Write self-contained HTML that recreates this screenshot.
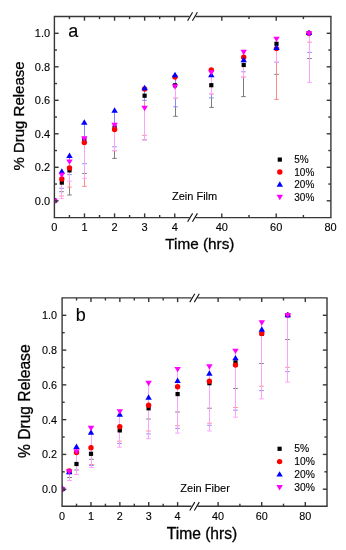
<!DOCTYPE html>
<html><head><meta charset="utf-8"><title>Drug release</title>
<style>
html,body{margin:0;padding:0;background:#fff;}
body{width:346px;height:550px;overflow:hidden;}
svg{display:block;}
svg text{font-family:"Liberation Sans", Arial, sans-serif;fill:#000;stroke:#000;stroke-width:0.12px;}
svg text.t{stroke-width:0.3px;}
</style></head>
<body>
<svg width="346" height="550" viewBox="0 0 346 550">
<rect width="346" height="550" fill="#fff"/>
<clipPath id="ca"><rect x="54.4" y="16.5" width="276.5" height="201.1"/></clipPath>
<g clip-path="url(#ca)">
<line x1="61.5" y1="182.6" x2="61.5" y2="191.7" stroke="#7c7c7c" stroke-width="1"/>
<line x1="59.2" y1="191.7" x2="63.8" y2="191.7" stroke="#7c7c7c" stroke-width="1"/>
<line x1="61.5" y1="179" x2="61.5" y2="196" stroke="#ff8a8a" stroke-width="1"/>
<line x1="59.2" y1="196" x2="63.8" y2="196" stroke="#ff8a8a" stroke-width="1"/>
<line x1="61.5" y1="171.5" x2="61.5" y2="188.3" stroke="#8a8aff" stroke-width="1"/>
<line x1="59.2" y1="188.3" x2="63.8" y2="188.3" stroke="#8a8aff" stroke-width="1"/>
<line x1="61.5" y1="174.8" x2="61.5" y2="198.6" stroke="#ffa2ff" stroke-width="1"/>
<line x1="59.2" y1="198.6" x2="63.8" y2="198.6" stroke="#ffa2ff" stroke-width="1"/>
<line x1="69.5" y1="170.4" x2="69.5" y2="195" stroke="#7c7c7c" stroke-width="1"/>
<line x1="67.2" y1="195" x2="71.8" y2="195" stroke="#7c7c7c" stroke-width="1"/>
<line x1="69.5" y1="167.9" x2="69.5" y2="187.1" stroke="#ff8a8a" stroke-width="1"/>
<line x1="67.2" y1="187.1" x2="71.8" y2="187.1" stroke="#ff8a8a" stroke-width="1"/>
<line x1="69.5" y1="155.8" x2="69.5" y2="174.6" stroke="#8a8aff" stroke-width="1"/>
<line x1="67.2" y1="174.6" x2="71.8" y2="174.6" stroke="#8a8aff" stroke-width="1"/>
<line x1="69.5" y1="161.6" x2="69.5" y2="181.2" stroke="#ffa2ff" stroke-width="1"/>
<line x1="67.2" y1="181.2" x2="71.8" y2="181.2" stroke="#ffa2ff" stroke-width="1"/>
<line x1="84.5" y1="139.5" x2="84.5" y2="173.5" stroke="#7c7c7c" stroke-width="1"/>
<line x1="82.2" y1="173.5" x2="86.8" y2="173.5" stroke="#7c7c7c" stroke-width="1"/>
<line x1="84.5" y1="142.6" x2="84.5" y2="186.3" stroke="#ff8a8a" stroke-width="1"/>
<line x1="82.2" y1="186.3" x2="86.8" y2="186.3" stroke="#ff8a8a" stroke-width="1"/>
<line x1="84.5" y1="122.5" x2="84.5" y2="163.7" stroke="#8a8aff" stroke-width="1"/>
<line x1="82.2" y1="163.7" x2="86.8" y2="163.7" stroke="#8a8aff" stroke-width="1"/>
<line x1="84.5" y1="138.5" x2="84.5" y2="178.3" stroke="#ffa2ff" stroke-width="1"/>
<line x1="82.2" y1="178.3" x2="86.8" y2="178.3" stroke="#ffa2ff" stroke-width="1"/>
<line x1="114.5" y1="127.5" x2="114.5" y2="158.4" stroke="#7c7c7c" stroke-width="1"/>
<line x1="112.2" y1="158.4" x2="116.8" y2="158.4" stroke="#7c7c7c" stroke-width="1"/>
<line x1="114.5" y1="129.5" x2="114.5" y2="150.8" stroke="#ff8a8a" stroke-width="1"/>
<line x1="112.2" y1="150.8" x2="116.8" y2="150.8" stroke="#ff8a8a" stroke-width="1"/>
<line x1="114.5" y1="110.5" x2="114.5" y2="146.8" stroke="#8a8aff" stroke-width="1"/>
<line x1="112.2" y1="146.8" x2="116.8" y2="146.8" stroke="#8a8aff" stroke-width="1"/>
<line x1="114.5" y1="125" x2="114.5" y2="150.5" stroke="#ffa2ff" stroke-width="1"/>
<line x1="112.2" y1="150.5" x2="116.8" y2="150.5" stroke="#ffa2ff" stroke-width="1"/>
<line x1="144.5" y1="95.7" x2="144.5" y2="139.8" stroke="#7c7c7c" stroke-width="1"/>
<line x1="142.2" y1="139.8" x2="146.8" y2="139.8" stroke="#7c7c7c" stroke-width="1"/>
<line x1="144.5" y1="89" x2="144.5" y2="135.3" stroke="#ff8a8a" stroke-width="1"/>
<line x1="142.2" y1="135.3" x2="146.8" y2="135.3" stroke="#ff8a8a" stroke-width="1"/>
<line x1="144.5" y1="88" x2="144.5" y2="100.4" stroke="#8a8aff" stroke-width="1"/>
<line x1="142.2" y1="100.4" x2="146.8" y2="100.4" stroke="#8a8aff" stroke-width="1"/>
<line x1="144.5" y1="108" x2="144.5" y2="139.8" stroke="#ffa2ff" stroke-width="1"/>
<line x1="142.2" y1="139.8" x2="146.8" y2="139.8" stroke="#ffa2ff" stroke-width="1"/>
<line x1="175.5" y1="85.3" x2="175.5" y2="116.3" stroke="#7c7c7c" stroke-width="1"/>
<line x1="173.2" y1="116.3" x2="177.8" y2="116.3" stroke="#7c7c7c" stroke-width="1"/>
<line x1="175.5" y1="77" x2="175.5" y2="98.2" stroke="#ff8a8a" stroke-width="1"/>
<line x1="173.2" y1="98.2" x2="177.8" y2="98.2" stroke="#ff8a8a" stroke-width="1"/>
<line x1="175.5" y1="75" x2="175.5" y2="106.8" stroke="#8a8aff" stroke-width="1"/>
<line x1="173.2" y1="106.8" x2="177.8" y2="106.8" stroke="#8a8aff" stroke-width="1"/>
<line x1="175.5" y1="86.3" x2="175.5" y2="98.2" stroke="#ffa2ff" stroke-width="1"/>
<line x1="173.2" y1="98.2" x2="177.8" y2="98.2" stroke="#ffa2ff" stroke-width="1"/>
<line x1="211.5" y1="85.2" x2="211.5" y2="107.4" stroke="#7c7c7c" stroke-width="1"/>
<line x1="209.2" y1="107.4" x2="213.8" y2="107.4" stroke="#7c7c7c" stroke-width="1"/>
<line x1="211.5" y1="69.9" x2="211.5" y2="94" stroke="#ff8a8a" stroke-width="1"/>
<line x1="209.2" y1="94" x2="213.8" y2="94" stroke="#ff8a8a" stroke-width="1"/>
<line x1="211.5" y1="75" x2="211.5" y2="97.9" stroke="#8a8aff" stroke-width="1"/>
<line x1="209.2" y1="97.9" x2="213.8" y2="97.9" stroke="#8a8aff" stroke-width="1"/>
<line x1="211.5" y1="72.3" x2="211.5" y2="94" stroke="#ffa2ff" stroke-width="1"/>
<line x1="209.2" y1="94" x2="213.8" y2="94" stroke="#ffa2ff" stroke-width="1"/>
<line x1="243.5" y1="65" x2="243.5" y2="96.6" stroke="#7c7c7c" stroke-width="1"/>
<line x1="241.2" y1="96.6" x2="245.8" y2="96.6" stroke="#7c7c7c" stroke-width="1"/>
<line x1="243.5" y1="57.3" x2="243.5" y2="77" stroke="#ff8a8a" stroke-width="1"/>
<line x1="241.2" y1="77" x2="245.8" y2="77" stroke="#ff8a8a" stroke-width="1"/>
<line x1="243.5" y1="60" x2="243.5" y2="71.8" stroke="#8a8aff" stroke-width="1"/>
<line x1="241.2" y1="71.8" x2="245.8" y2="71.8" stroke="#8a8aff" stroke-width="1"/>
<line x1="243.5" y1="52" x2="243.5" y2="77" stroke="#ffa2ff" stroke-width="1"/>
<line x1="241.2" y1="77" x2="245.8" y2="77" stroke="#ffa2ff" stroke-width="1"/>
<line x1="276.5" y1="43.8" x2="276.5" y2="74.3" stroke="#7c7c7c" stroke-width="1"/>
<line x1="274.2" y1="74.3" x2="278.8" y2="74.3" stroke="#7c7c7c" stroke-width="1"/>
<line x1="276.5" y1="48.6" x2="276.5" y2="99.4" stroke="#ff8a8a" stroke-width="1"/>
<line x1="274.2" y1="99.4" x2="278.8" y2="99.4" stroke="#ff8a8a" stroke-width="1"/>
<line x1="276.5" y1="47.8" x2="276.5" y2="62.2" stroke="#8a8aff" stroke-width="1"/>
<line x1="274.2" y1="62.2" x2="278.8" y2="62.2" stroke="#8a8aff" stroke-width="1"/>
<line x1="276.5" y1="38.8" x2="276.5" y2="62.2" stroke="#ffa2ff" stroke-width="1"/>
<line x1="274.2" y1="62.2" x2="278.8" y2="62.2" stroke="#ffa2ff" stroke-width="1"/>
<line x1="309.5" y1="33.2" x2="309.5" y2="58.5" stroke="#7c7c7c" stroke-width="1"/>
<line x1="307.2" y1="58.5" x2="311.8" y2="58.5" stroke="#7c7c7c" stroke-width="1"/>
<line x1="309.5" y1="33.2" x2="309.5" y2="42.2" stroke="#ff8a8a" stroke-width="1"/>
<line x1="307.2" y1="42.2" x2="311.8" y2="42.2" stroke="#ff8a8a" stroke-width="1"/>
<line x1="309.5" y1="32.9" x2="309.5" y2="52.4" stroke="#8a8aff" stroke-width="1"/>
<line x1="307.2" y1="52.4" x2="311.8" y2="52.4" stroke="#8a8aff" stroke-width="1"/>
<line x1="309.5" y1="33.4" x2="309.5" y2="82.4" stroke="#ffa2ff" stroke-width="1"/>
<line x1="307.2" y1="82.4" x2="311.8" y2="82.4" stroke="#ffa2ff" stroke-width="1"/>
<rect x="52.4" y="198.7" width="4.2" height="4.2" fill="#000000"/>
<circle cx="54.5" cy="200.8" r="2.7" fill="#ff0000"/>
<polygon points="54.5,196.96 51.3,202.36 57.7,202.36" fill="#0000ff"/>
<polygon points="54.5,204.24 51.3,198.84 57.7,198.84" fill="#ff00ff"/>
<rect x="59.7" y="180.5" width="4.2" height="4.2" fill="#000000"/>
<circle cx="61.8" cy="179" r="2.7" fill="#ff0000"/>
<polygon points="61.8,168.26 58.6,173.66 65,173.66" fill="#0000ff"/>
<polygon points="61.8,178.04 58.6,172.64 65,172.64" fill="#ff00ff"/>
<rect x="67.4" y="168.3" width="4.2" height="4.2" fill="#000000"/>
<circle cx="69.5" cy="167.9" r="2.7" fill="#ff0000"/>
<polygon points="69.5,152.56 66.3,157.96 72.7,157.96" fill="#0000ff"/>
<polygon points="69.5,164.84 66.3,159.44 72.7,159.44" fill="#ff00ff"/>
<rect x="82.2" y="137.4" width="4.2" height="4.2" fill="#000000"/>
<circle cx="84.3" cy="142.6" r="2.7" fill="#ff0000"/>
<polygon points="84.3,119.26 81.1,124.66 87.5,124.66" fill="#0000ff"/>
<polygon points="84.3,141.74 81.1,136.34 87.5,136.34" fill="#ff00ff"/>
<rect x="112.5" y="125.4" width="4.2" height="4.2" fill="#000000"/>
<circle cx="114.6" cy="129.5" r="2.7" fill="#ff0000"/>
<polygon points="114.6,107.26 111.4,112.66 117.8,112.66" fill="#0000ff"/>
<polygon points="114.6,128.24 111.4,122.84 117.8,122.84" fill="#ff00ff"/>
<rect x="142.5" y="93.6" width="4.2" height="4.2" fill="#000000"/>
<circle cx="144.6" cy="89" r="2.7" fill="#ff0000"/>
<polygon points="144.6,84.76 141.4,90.16 147.8,90.16" fill="#0000ff"/>
<polygon points="144.6,111.24 141.4,105.84 147.8,105.84" fill="#ff00ff"/>
<rect x="172.9" y="83.2" width="4.2" height="4.2" fill="#000000"/>
<circle cx="175" cy="77" r="2.7" fill="#ff0000"/>
<polygon points="175,71.76 171.8,77.16 178.2,77.16" fill="#0000ff"/>
<polygon points="175,89.54 171.8,84.14 178.2,84.14" fill="#ff00ff"/>
<rect x="209.2" y="83.1" width="4.2" height="4.2" fill="#000000"/>
<circle cx="211.3" cy="69.9" r="2.7" fill="#ff0000"/>
<polygon points="211.3,71.76 208.1,77.16 214.5,77.16" fill="#0000ff"/>
<polygon points="211.3,75.54 208.1,70.14 214.5,70.14" fill="#ff00ff"/>
<rect x="241.6" y="62.9" width="4.2" height="4.2" fill="#000000"/>
<circle cx="243.7" cy="57.3" r="2.7" fill="#ff0000"/>
<polygon points="243.7,56.76 240.5,62.16 246.9,62.16" fill="#0000ff"/>
<polygon points="243.7,55.24 240.5,49.84 246.9,49.84" fill="#ff00ff"/>
<rect x="274.4" y="41.7" width="4.2" height="4.2" fill="#000000"/>
<circle cx="276.5" cy="48.6" r="2.7" fill="#ff0000"/>
<polygon points="276.5,44.56 273.3,49.96 279.7,49.96" fill="#0000ff"/>
<polygon points="276.5,42.04 273.3,36.64 279.7,36.64" fill="#ff00ff"/>
<rect x="306.9" y="31.1" width="4.2" height="4.2" fill="#000000"/>
<circle cx="309" cy="33.2" r="2.7" fill="#ff0000"/>
<polygon points="309,29.66 305.8,35.06 312.2,35.06" fill="#0000ff"/>
<polygon points="309,36.64 305.8,31.24 312.2,31.24" fill="#ff00ff"/>
</g>
<line x1="54.4" y1="16.5" x2="54.4" y2="217.6" stroke="#363636" stroke-width="1.4"/>
<line x1="330.9" y1="16.5" x2="330.9" y2="217.6" stroke="#363636" stroke-width="1.4"/>
<line x1="53.8" y1="16.5" x2="189.5" y2="16.5" stroke="#363636" stroke-width="1.4"/>
<line x1="195.5" y1="16.5" x2="331.5" y2="16.5" stroke="#363636" stroke-width="1.4"/>
<line x1="53.8" y1="217.6" x2="189.5" y2="217.6" stroke="#363636" stroke-width="1.4"/>
<line x1="195.5" y1="217.6" x2="331.5" y2="217.6" stroke="#363636" stroke-width="1.4"/>
<line x1="187.6" y1="20.7" x2="192.6" y2="12.3" stroke="#111" stroke-width="1.1"/>
<line x1="192.4" y1="20.7" x2="197.4" y2="12.3" stroke="#111" stroke-width="1.1"/>
<line x1="187.6" y1="221.8" x2="192.6" y2="213.4" stroke="#111" stroke-width="1.1"/>
<line x1="192.4" y1="221.8" x2="197.4" y2="213.4" stroke="#111" stroke-width="1.1"/>
<line x1="54.4" y1="200.8" x2="58.6" y2="200.8" stroke="#363636" stroke-width="1.4"/>
<line x1="330.9" y1="200.8" x2="326.7" y2="200.8" stroke="#363636" stroke-width="1.4"/>
<text x="50.1" y="204.7" font-size="11" text-anchor="end">0.0</text>
<line x1="54.4" y1="184.05" x2="57" y2="184.05" stroke="#363636" stroke-width="1.4"/>
<line x1="330.9" y1="184.05" x2="328.3" y2="184.05" stroke="#363636" stroke-width="1.4"/>
<line x1="54.4" y1="167.3" x2="58.6" y2="167.3" stroke="#363636" stroke-width="1.4"/>
<line x1="330.9" y1="167.3" x2="326.7" y2="167.3" stroke="#363636" stroke-width="1.4"/>
<text x="50.1" y="171.2" font-size="11" text-anchor="end">0.2</text>
<line x1="54.4" y1="150.55" x2="57" y2="150.55" stroke="#363636" stroke-width="1.4"/>
<line x1="330.9" y1="150.55" x2="328.3" y2="150.55" stroke="#363636" stroke-width="1.4"/>
<line x1="54.4" y1="133.8" x2="58.6" y2="133.8" stroke="#363636" stroke-width="1.4"/>
<line x1="330.9" y1="133.8" x2="326.7" y2="133.8" stroke="#363636" stroke-width="1.4"/>
<text x="50.1" y="137.7" font-size="11" text-anchor="end">0.4</text>
<line x1="54.4" y1="117.05" x2="57" y2="117.05" stroke="#363636" stroke-width="1.4"/>
<line x1="330.9" y1="117.05" x2="328.3" y2="117.05" stroke="#363636" stroke-width="1.4"/>
<line x1="54.4" y1="100.3" x2="58.6" y2="100.3" stroke="#363636" stroke-width="1.4"/>
<line x1="330.9" y1="100.3" x2="326.7" y2="100.3" stroke="#363636" stroke-width="1.4"/>
<text x="50.1" y="104.2" font-size="11" text-anchor="end">0.6</text>
<line x1="54.4" y1="83.55" x2="57" y2="83.55" stroke="#363636" stroke-width="1.4"/>
<line x1="330.9" y1="83.55" x2="328.3" y2="83.55" stroke="#363636" stroke-width="1.4"/>
<line x1="54.4" y1="66.8" x2="58.6" y2="66.8" stroke="#363636" stroke-width="1.4"/>
<line x1="330.9" y1="66.8" x2="326.7" y2="66.8" stroke="#363636" stroke-width="1.4"/>
<text x="50.1" y="70.7" font-size="11" text-anchor="end">0.8</text>
<line x1="54.4" y1="50.05" x2="57" y2="50.05" stroke="#363636" stroke-width="1.4"/>
<line x1="330.9" y1="50.05" x2="328.3" y2="50.05" stroke="#363636" stroke-width="1.4"/>
<line x1="54.4" y1="33.3" x2="58.6" y2="33.3" stroke="#363636" stroke-width="1.4"/>
<line x1="330.9" y1="33.3" x2="326.7" y2="33.3" stroke="#363636" stroke-width="1.4"/>
<text x="50.1" y="37.2" font-size="11" text-anchor="end">1.0</text>
<text x="54.4" y="231.1" font-size="11" text-anchor="middle">0</text>
<line x1="69.44" y1="217.6" x2="69.44" y2="215" stroke="#363636" stroke-width="1.4"/>
<line x1="69.44" y1="16.5" x2="69.44" y2="19.1" stroke="#363636" stroke-width="1.4"/>
<line x1="84.48" y1="217.6" x2="84.48" y2="213.4" stroke="#363636" stroke-width="1.4"/>
<line x1="84.48" y1="16.5" x2="84.48" y2="20.7" stroke="#363636" stroke-width="1.4"/>
<text x="84.48" y="231.1" font-size="11" text-anchor="middle">1</text>
<line x1="99.52" y1="217.6" x2="99.52" y2="215" stroke="#363636" stroke-width="1.4"/>
<line x1="99.52" y1="16.5" x2="99.52" y2="19.1" stroke="#363636" stroke-width="1.4"/>
<line x1="114.56" y1="217.6" x2="114.56" y2="213.4" stroke="#363636" stroke-width="1.4"/>
<line x1="114.56" y1="16.5" x2="114.56" y2="20.7" stroke="#363636" stroke-width="1.4"/>
<text x="114.56" y="231.1" font-size="11" text-anchor="middle">2</text>
<line x1="129.6" y1="217.6" x2="129.6" y2="215" stroke="#363636" stroke-width="1.4"/>
<line x1="129.6" y1="16.5" x2="129.6" y2="19.1" stroke="#363636" stroke-width="1.4"/>
<line x1="144.64" y1="217.6" x2="144.64" y2="213.4" stroke="#363636" stroke-width="1.4"/>
<line x1="144.64" y1="16.5" x2="144.64" y2="20.7" stroke="#363636" stroke-width="1.4"/>
<text x="144.64" y="231.1" font-size="11" text-anchor="middle">3</text>
<line x1="159.68" y1="217.6" x2="159.68" y2="215" stroke="#363636" stroke-width="1.4"/>
<line x1="159.68" y1="16.5" x2="159.68" y2="19.1" stroke="#363636" stroke-width="1.4"/>
<line x1="174.72" y1="217.6" x2="174.72" y2="213.4" stroke="#363636" stroke-width="1.4"/>
<line x1="174.72" y1="16.5" x2="174.72" y2="20.7" stroke="#363636" stroke-width="1.4"/>
<text x="174.72" y="231.1" font-size="11" text-anchor="middle">4</text>
<line x1="221.8" y1="217.6" x2="221.8" y2="213.4" stroke="#363636" stroke-width="1.4"/>
<line x1="221.8" y1="16.5" x2="221.8" y2="20.7" stroke="#363636" stroke-width="1.4"/>
<text x="221.8" y="231.1" font-size="11" text-anchor="middle">40</text>
<line x1="249" y1="217.6" x2="249" y2="215" stroke="#363636" stroke-width="1.4"/>
<line x1="249" y1="16.5" x2="249" y2="19.1" stroke="#363636" stroke-width="1.4"/>
<line x1="276.2" y1="217.6" x2="276.2" y2="213.4" stroke="#363636" stroke-width="1.4"/>
<line x1="276.2" y1="16.5" x2="276.2" y2="20.7" stroke="#363636" stroke-width="1.4"/>
<text x="276.2" y="231.1" font-size="11" text-anchor="middle">60</text>
<line x1="303.4" y1="217.6" x2="303.4" y2="215" stroke="#363636" stroke-width="1.4"/>
<line x1="303.4" y1="16.5" x2="303.4" y2="19.1" stroke="#363636" stroke-width="1.4"/>
<text x="330.6" y="231.1" font-size="11" text-anchor="middle">80</text>
<text class="t" x="0" y="0" font-size="15" text-anchor="middle" transform="translate(23.8,116) rotate(-90)">% Drug Release</text>
<text x="199.9" y="249" font-size="15.3" text-anchor="middle" class="t">Time (hrs)</text>
<text x="68.2" y="36.8" font-size="18" text-anchor="start">a</text>
<text x="172" y="199.8" font-size="11" text-anchor="start">Zein Film</text>
<rect x="277.7" y="157.5" width="4.2" height="4.2" fill="#000000"/>
<text x="294.3" y="163.2" font-size="10" text-anchor="start">5%</text>
<circle cx="279.8" cy="172.05" r="2.7" fill="#ff0000"/>
<text x="294.3" y="175.65" font-size="10" text-anchor="start">10%</text>
<polygon points="279.8,181.26 276.6,186.66 283,186.66" fill="#0000ff"/>
<text x="294.3" y="188.1" font-size="10" text-anchor="start">20%</text>
<polygon points="279.8,200.19 276.6,194.79 283,194.79" fill="#ff00ff"/>
<text x="294.3" y="200.55" font-size="10" text-anchor="start">30%</text>
<clipPath id="cb"><rect x="62.1" y="297.9" width="264.9" height="208.4"/></clipPath>
<g clip-path="url(#cb)">
<line x1="69.5" y1="472" x2="69.5" y2="477.5" stroke="#7c7c7c" stroke-width="1"/>
<line x1="67.2" y1="477.5" x2="71.8" y2="477.5" stroke="#7c7c7c" stroke-width="1"/>
<line x1="69.5" y1="471" x2="69.5" y2="472" stroke="#ff8a8a" stroke-width="1"/>
<line x1="67.2" y1="472" x2="71.8" y2="472" stroke="#ff8a8a" stroke-width="1"/>
<line x1="69.5" y1="472" x2="69.5" y2="473" stroke="#8a8aff" stroke-width="1"/>
<line x1="67.2" y1="473" x2="71.8" y2="473" stroke="#8a8aff" stroke-width="1"/>
<line x1="69.5" y1="471.5" x2="69.5" y2="480.5" stroke="#ffa2ff" stroke-width="1"/>
<line x1="67.2" y1="480.5" x2="71.8" y2="480.5" stroke="#ffa2ff" stroke-width="1"/>
<line x1="76.5" y1="464" x2="76.5" y2="470" stroke="#7c7c7c" stroke-width="1"/>
<line x1="74.2" y1="470" x2="78.8" y2="470" stroke="#7c7c7c" stroke-width="1"/>
<line x1="76.5" y1="452.5" x2="76.5" y2="474.5" stroke="#ff8a8a" stroke-width="1"/>
<line x1="74.2" y1="474.5" x2="78.8" y2="474.5" stroke="#ff8a8a" stroke-width="1"/>
<line x1="76.5" y1="446.8" x2="76.5" y2="452" stroke="#8a8aff" stroke-width="1"/>
<line x1="74.2" y1="452" x2="78.8" y2="452" stroke="#8a8aff" stroke-width="1"/>
<line x1="76.5" y1="451.3" x2="76.5" y2="474.5" stroke="#ffa2ff" stroke-width="1"/>
<line x1="74.2" y1="474.5" x2="78.8" y2="474.5" stroke="#ffa2ff" stroke-width="1"/>
<line x1="91.5" y1="453.8" x2="91.5" y2="459.3" stroke="#7c7c7c" stroke-width="1"/>
<line x1="89.2" y1="459.3" x2="93.8" y2="459.3" stroke="#7c7c7c" stroke-width="1"/>
<line x1="91.5" y1="447.8" x2="91.5" y2="464.5" stroke="#ff8a8a" stroke-width="1"/>
<line x1="89.2" y1="464.5" x2="93.8" y2="464.5" stroke="#ff8a8a" stroke-width="1"/>
<line x1="91.5" y1="432.5" x2="91.5" y2="465.5" stroke="#8a8aff" stroke-width="1"/>
<line x1="89.2" y1="465.5" x2="93.8" y2="465.5" stroke="#8a8aff" stroke-width="1"/>
<line x1="91.5" y1="428" x2="91.5" y2="467.5" stroke="#ffa2ff" stroke-width="1"/>
<line x1="89.2" y1="467.5" x2="93.8" y2="467.5" stroke="#ffa2ff" stroke-width="1"/>
<line x1="119.5" y1="430.4" x2="119.5" y2="431" stroke="#7c7c7c" stroke-width="1"/>
<line x1="117.2" y1="431" x2="121.8" y2="431" stroke="#7c7c7c" stroke-width="1"/>
<line x1="119.5" y1="426.8" x2="119.5" y2="441.2" stroke="#ff8a8a" stroke-width="1"/>
<line x1="117.2" y1="441.2" x2="121.8" y2="441.2" stroke="#ff8a8a" stroke-width="1"/>
<line x1="119.5" y1="414.5" x2="119.5" y2="443.5" stroke="#8a8aff" stroke-width="1"/>
<line x1="117.2" y1="443.5" x2="121.8" y2="443.5" stroke="#8a8aff" stroke-width="1"/>
<line x1="119.5" y1="411.3" x2="119.5" y2="447.2" stroke="#ffa2ff" stroke-width="1"/>
<line x1="117.2" y1="447.2" x2="121.8" y2="447.2" stroke="#ffa2ff" stroke-width="1"/>
<line x1="148.5" y1="408.3" x2="148.5" y2="419" stroke="#7c7c7c" stroke-width="1"/>
<line x1="146.2" y1="419" x2="150.8" y2="419" stroke="#7c7c7c" stroke-width="1"/>
<line x1="148.5" y1="405.3" x2="148.5" y2="431" stroke="#ff8a8a" stroke-width="1"/>
<line x1="146.2" y1="431" x2="150.8" y2="431" stroke="#ff8a8a" stroke-width="1"/>
<line x1="148.5" y1="397.6" x2="148.5" y2="433.9" stroke="#8a8aff" stroke-width="1"/>
<line x1="146.2" y1="433.9" x2="150.8" y2="433.9" stroke="#8a8aff" stroke-width="1"/>
<line x1="148.5" y1="383" x2="148.5" y2="438.7" stroke="#ffa2ff" stroke-width="1"/>
<line x1="146.2" y1="438.7" x2="150.8" y2="438.7" stroke="#ffa2ff" stroke-width="1"/>
<line x1="177.5" y1="394.1" x2="177.5" y2="412" stroke="#7c7c7c" stroke-width="1"/>
<line x1="175.2" y1="412" x2="179.8" y2="412" stroke="#7c7c7c" stroke-width="1"/>
<line x1="177.5" y1="386.8" x2="177.5" y2="425.8" stroke="#ff8a8a" stroke-width="1"/>
<line x1="175.2" y1="425.8" x2="179.8" y2="425.8" stroke="#ff8a8a" stroke-width="1"/>
<line x1="177.5" y1="380.8" x2="177.5" y2="428.4" stroke="#8a8aff" stroke-width="1"/>
<line x1="175.2" y1="428.4" x2="179.8" y2="428.4" stroke="#8a8aff" stroke-width="1"/>
<line x1="177.5" y1="369.1" x2="177.5" y2="433.1" stroke="#ffa2ff" stroke-width="1"/>
<line x1="175.2" y1="433.1" x2="179.8" y2="433.1" stroke="#ffa2ff" stroke-width="1"/>
<line x1="209.5" y1="383.2" x2="209.5" y2="408.2" stroke="#7c7c7c" stroke-width="1"/>
<line x1="207.2" y1="408.2" x2="211.8" y2="408.2" stroke="#7c7c7c" stroke-width="1"/>
<line x1="209.5" y1="381.3" x2="209.5" y2="423.2" stroke="#ff8a8a" stroke-width="1"/>
<line x1="207.2" y1="423.2" x2="211.8" y2="423.2" stroke="#ff8a8a" stroke-width="1"/>
<line x1="209.5" y1="373.5" x2="209.5" y2="425.3" stroke="#8a8aff" stroke-width="1"/>
<line x1="207.2" y1="425.3" x2="211.8" y2="425.3" stroke="#8a8aff" stroke-width="1"/>
<line x1="209.5" y1="366.5" x2="209.5" y2="431" stroke="#ffa2ff" stroke-width="1"/>
<line x1="207.2" y1="431" x2="211.8" y2="431" stroke="#ffa2ff" stroke-width="1"/>
<line x1="235.5" y1="362.4" x2="235.5" y2="388.5" stroke="#7c7c7c" stroke-width="1"/>
<line x1="233.2" y1="388.5" x2="237.8" y2="388.5" stroke="#7c7c7c" stroke-width="1"/>
<line x1="235.5" y1="365.1" x2="235.5" y2="407.5" stroke="#ff8a8a" stroke-width="1"/>
<line x1="233.2" y1="407.5" x2="237.8" y2="407.5" stroke="#ff8a8a" stroke-width="1"/>
<line x1="235.5" y1="358.2" x2="235.5" y2="410.2" stroke="#8a8aff" stroke-width="1"/>
<line x1="233.2" y1="410.2" x2="237.8" y2="410.2" stroke="#8a8aff" stroke-width="1"/>
<line x1="235.5" y1="350.8" x2="235.5" y2="417.2" stroke="#ffa2ff" stroke-width="1"/>
<line x1="233.2" y1="417.2" x2="237.8" y2="417.2" stroke="#ffa2ff" stroke-width="1"/>
<line x1="261.5" y1="333.8" x2="261.5" y2="363.5" stroke="#7c7c7c" stroke-width="1"/>
<line x1="259.2" y1="363.5" x2="263.8" y2="363.5" stroke="#7c7c7c" stroke-width="1"/>
<line x1="261.5" y1="333.5" x2="261.5" y2="386.2" stroke="#ff8a8a" stroke-width="1"/>
<line x1="259.2" y1="386.2" x2="263.8" y2="386.2" stroke="#ff8a8a" stroke-width="1"/>
<line x1="261.5" y1="329.5" x2="261.5" y2="390.6" stroke="#8a8aff" stroke-width="1"/>
<line x1="259.2" y1="390.6" x2="263.8" y2="390.6" stroke="#8a8aff" stroke-width="1"/>
<line x1="261.5" y1="322.5" x2="261.5" y2="398.9" stroke="#ffa2ff" stroke-width="1"/>
<line x1="259.2" y1="398.9" x2="263.8" y2="398.9" stroke="#ffa2ff" stroke-width="1"/>
<line x1="287.5" y1="315.1" x2="287.5" y2="339.5" stroke="#7c7c7c" stroke-width="1"/>
<line x1="285.2" y1="339.5" x2="289.8" y2="339.5" stroke="#7c7c7c" stroke-width="1"/>
<line x1="287.5" y1="315.1" x2="287.5" y2="367.3" stroke="#ff8a8a" stroke-width="1"/>
<line x1="285.2" y1="367.3" x2="289.8" y2="367.3" stroke="#ff8a8a" stroke-width="1"/>
<line x1="287.5" y1="315.1" x2="287.5" y2="371.7" stroke="#8a8aff" stroke-width="1"/>
<line x1="285.2" y1="371.7" x2="289.8" y2="371.7" stroke="#8a8aff" stroke-width="1"/>
<line x1="287.5" y1="315.1" x2="287.5" y2="382" stroke="#ffa2ff" stroke-width="1"/>
<line x1="285.2" y1="382" x2="289.8" y2="382" stroke="#ffa2ff" stroke-width="1"/>
<rect x="60.2" y="487" width="4.2" height="4.2" fill="#000000"/>
<circle cx="62.3" cy="489.1" r="2.7" fill="#ff0000"/>
<polygon points="62.3,485.36 59.1,490.76 65.5,490.76" fill="#0000ff"/>
<polygon points="62.3,492.64 59.1,487.24 65.5,487.24" fill="#ff00ff"/>
<rect x="67.1" y="469.9" width="4.2" height="4.2" fill="#000000"/>
<circle cx="69.2" cy="471" r="2.7" fill="#ff0000"/>
<polygon points="69.2,468.76 66,474.16 72.4,474.16" fill="#0000ff"/>
<polygon points="69.2,474.74 66,469.34 72.4,469.34" fill="#ff00ff"/>
<rect x="74.4" y="461.9" width="4.2" height="4.2" fill="#000000"/>
<circle cx="76.5" cy="452.5" r="2.7" fill="#ff0000"/>
<polygon points="76.5,443.56 73.3,448.96 79.7,448.96" fill="#0000ff"/>
<polygon points="76.5,454.54 73.3,449.14 79.7,449.14" fill="#ff00ff"/>
<rect x="88.9" y="451.7" width="4.2" height="4.2" fill="#000000"/>
<circle cx="91" cy="447.8" r="2.7" fill="#ff0000"/>
<polygon points="91,429.26 87.8,434.66 94.2,434.66" fill="#0000ff"/>
<polygon points="91,431.24 87.8,425.84 94.2,425.84" fill="#ff00ff"/>
<rect x="117.7" y="428.3" width="4.2" height="4.2" fill="#000000"/>
<circle cx="119.8" cy="426.8" r="2.7" fill="#ff0000"/>
<polygon points="119.8,411.26 116.6,416.66 123,416.66" fill="#0000ff"/>
<polygon points="119.8,414.54 116.6,409.14 123,409.14" fill="#ff00ff"/>
<rect x="146.5" y="406.2" width="4.2" height="4.2" fill="#000000"/>
<circle cx="148.6" cy="405.3" r="2.7" fill="#ff0000"/>
<polygon points="148.6,394.36 145.4,399.76 151.8,399.76" fill="#0000ff"/>
<polygon points="148.6,386.24 145.4,380.84 151.8,380.84" fill="#ff00ff"/>
<rect x="175.5" y="392" width="4.2" height="4.2" fill="#000000"/>
<circle cx="177.6" cy="386.8" r="2.7" fill="#ff0000"/>
<polygon points="177.6,377.56 174.4,382.96 180.8,382.96" fill="#0000ff"/>
<polygon points="177.6,372.34 174.4,366.94 180.8,366.94" fill="#ff00ff"/>
<rect x="207.3" y="381.1" width="4.2" height="4.2" fill="#000000"/>
<circle cx="209.4" cy="381.3" r="2.7" fill="#ff0000"/>
<polygon points="209.4,370.26 206.2,375.66 212.6,375.66" fill="#0000ff"/>
<polygon points="209.4,369.74 206.2,364.34 212.6,364.34" fill="#ff00ff"/>
<rect x="233.4" y="360.3" width="4.2" height="4.2" fill="#000000"/>
<circle cx="235.5" cy="365.1" r="2.7" fill="#ff0000"/>
<polygon points="235.5,354.96 232.3,360.36 238.7,360.36" fill="#0000ff"/>
<polygon points="235.5,354.04 232.3,348.64 238.7,348.64" fill="#ff00ff"/>
<rect x="259.7" y="331.7" width="4.2" height="4.2" fill="#000000"/>
<circle cx="261.8" cy="333.5" r="2.7" fill="#ff0000"/>
<polygon points="261.8,326.26 258.6,331.66 265,331.66" fill="#0000ff"/>
<polygon points="261.8,325.74 258.6,320.34 265,320.34" fill="#ff00ff"/>
<rect x="285.7" y="313" width="4.2" height="4.2" fill="#000000"/>
<circle cx="287.8" cy="315.1" r="2.7" fill="#ff0000"/>
<polygon points="287.8,311.86 284.6,317.26 291,317.26" fill="#0000ff"/>
<polygon points="287.8,318.34 284.6,312.94 291,312.94" fill="#ff00ff"/>
</g>
<line x1="62.1" y1="297.9" x2="62.1" y2="506.3" stroke="#363636" stroke-width="1.4"/>
<line x1="327" y1="297.9" x2="327" y2="506.3" stroke="#363636" stroke-width="1.4"/>
<line x1="61.5" y1="297.9" x2="191.5" y2="297.9" stroke="#363636" stroke-width="1.4"/>
<line x1="197.5" y1="297.9" x2="327.6" y2="297.9" stroke="#363636" stroke-width="1.4"/>
<line x1="61.5" y1="506.3" x2="191.5" y2="506.3" stroke="#363636" stroke-width="1.4"/>
<line x1="197.5" y1="506.3" x2="327.6" y2="506.3" stroke="#363636" stroke-width="1.4"/>
<line x1="189.8" y1="302.1" x2="194.8" y2="293.7" stroke="#111" stroke-width="1.1"/>
<line x1="194.3" y1="302.1" x2="199.3" y2="293.7" stroke="#111" stroke-width="1.1"/>
<line x1="189.8" y1="510.5" x2="194.8" y2="502.1" stroke="#111" stroke-width="1.1"/>
<line x1="194.3" y1="510.5" x2="199.3" y2="502.1" stroke="#111" stroke-width="1.1"/>
<line x1="62.1" y1="489.2" x2="66.3" y2="489.2" stroke="#363636" stroke-width="1.4"/>
<line x1="327" y1="489.2" x2="322.8" y2="489.2" stroke="#363636" stroke-width="1.4"/>
<text x="56.9" y="493.1" font-size="10.8" text-anchor="end">0.0</text>
<line x1="62.1" y1="471.81" x2="64.7" y2="471.81" stroke="#363636" stroke-width="1.4"/>
<line x1="327" y1="471.81" x2="324.4" y2="471.81" stroke="#363636" stroke-width="1.4"/>
<line x1="62.1" y1="454.42" x2="66.3" y2="454.42" stroke="#363636" stroke-width="1.4"/>
<line x1="327" y1="454.42" x2="322.8" y2="454.42" stroke="#363636" stroke-width="1.4"/>
<text x="56.9" y="458.32" font-size="10.8" text-anchor="end">0.2</text>
<line x1="62.1" y1="437.03" x2="64.7" y2="437.03" stroke="#363636" stroke-width="1.4"/>
<line x1="327" y1="437.03" x2="324.4" y2="437.03" stroke="#363636" stroke-width="1.4"/>
<line x1="62.1" y1="419.64" x2="66.3" y2="419.64" stroke="#363636" stroke-width="1.4"/>
<line x1="327" y1="419.64" x2="322.8" y2="419.64" stroke="#363636" stroke-width="1.4"/>
<text x="56.9" y="423.54" font-size="10.8" text-anchor="end">0.4</text>
<line x1="62.1" y1="402.25" x2="64.7" y2="402.25" stroke="#363636" stroke-width="1.4"/>
<line x1="327" y1="402.25" x2="324.4" y2="402.25" stroke="#363636" stroke-width="1.4"/>
<line x1="62.1" y1="384.86" x2="66.3" y2="384.86" stroke="#363636" stroke-width="1.4"/>
<line x1="327" y1="384.86" x2="322.8" y2="384.86" stroke="#363636" stroke-width="1.4"/>
<text x="56.9" y="388.76" font-size="10.8" text-anchor="end">0.6</text>
<line x1="62.1" y1="367.47" x2="64.7" y2="367.47" stroke="#363636" stroke-width="1.4"/>
<line x1="327" y1="367.47" x2="324.4" y2="367.47" stroke="#363636" stroke-width="1.4"/>
<line x1="62.1" y1="350.08" x2="66.3" y2="350.08" stroke="#363636" stroke-width="1.4"/>
<line x1="327" y1="350.08" x2="322.8" y2="350.08" stroke="#363636" stroke-width="1.4"/>
<text x="56.9" y="353.98" font-size="10.8" text-anchor="end">0.8</text>
<line x1="62.1" y1="332.69" x2="64.7" y2="332.69" stroke="#363636" stroke-width="1.4"/>
<line x1="327" y1="332.69" x2="324.4" y2="332.69" stroke="#363636" stroke-width="1.4"/>
<line x1="62.1" y1="315.3" x2="66.3" y2="315.3" stroke="#363636" stroke-width="1.4"/>
<line x1="327" y1="315.3" x2="322.8" y2="315.3" stroke="#363636" stroke-width="1.4"/>
<text x="56.9" y="319.2" font-size="10.8" text-anchor="end">1.0</text>
<text x="62.1" y="519.5" font-size="10.8" text-anchor="middle">0</text>
<line x1="76.54" y1="506.3" x2="76.54" y2="503.7" stroke="#363636" stroke-width="1.4"/>
<line x1="76.54" y1="297.9" x2="76.54" y2="300.5" stroke="#363636" stroke-width="1.4"/>
<line x1="90.98" y1="506.3" x2="90.98" y2="502.1" stroke="#363636" stroke-width="1.4"/>
<line x1="90.98" y1="297.9" x2="90.98" y2="302.1" stroke="#363636" stroke-width="1.4"/>
<text x="90.98" y="519.5" font-size="10.8" text-anchor="middle">1</text>
<line x1="105.42" y1="506.3" x2="105.42" y2="503.7" stroke="#363636" stroke-width="1.4"/>
<line x1="105.42" y1="297.9" x2="105.42" y2="300.5" stroke="#363636" stroke-width="1.4"/>
<line x1="119.86" y1="506.3" x2="119.86" y2="502.1" stroke="#363636" stroke-width="1.4"/>
<line x1="119.86" y1="297.9" x2="119.86" y2="302.1" stroke="#363636" stroke-width="1.4"/>
<text x="119.86" y="519.5" font-size="10.8" text-anchor="middle">2</text>
<line x1="134.3" y1="506.3" x2="134.3" y2="503.7" stroke="#363636" stroke-width="1.4"/>
<line x1="134.3" y1="297.9" x2="134.3" y2="300.5" stroke="#363636" stroke-width="1.4"/>
<line x1="148.74" y1="506.3" x2="148.74" y2="502.1" stroke="#363636" stroke-width="1.4"/>
<line x1="148.74" y1="297.9" x2="148.74" y2="302.1" stroke="#363636" stroke-width="1.4"/>
<text x="148.74" y="519.5" font-size="10.8" text-anchor="middle">3</text>
<line x1="163.18" y1="506.3" x2="163.18" y2="503.7" stroke="#363636" stroke-width="1.4"/>
<line x1="163.18" y1="297.9" x2="163.18" y2="300.5" stroke="#363636" stroke-width="1.4"/>
<line x1="177.62" y1="506.3" x2="177.62" y2="502.1" stroke="#363636" stroke-width="1.4"/>
<line x1="177.62" y1="297.9" x2="177.62" y2="302.1" stroke="#363636" stroke-width="1.4"/>
<text x="177.62" y="519.5" font-size="10.8" text-anchor="middle">4</text>
<line x1="218.1" y1="506.3" x2="218.1" y2="502.1" stroke="#363636" stroke-width="1.4"/>
<line x1="218.1" y1="297.9" x2="218.1" y2="302.1" stroke="#363636" stroke-width="1.4"/>
<text x="218.1" y="519.5" font-size="10.8" text-anchor="middle">40</text>
<line x1="239.9" y1="506.3" x2="239.9" y2="503.7" stroke="#363636" stroke-width="1.4"/>
<line x1="239.9" y1="297.9" x2="239.9" y2="300.5" stroke="#363636" stroke-width="1.4"/>
<line x1="261.7" y1="506.3" x2="261.7" y2="502.1" stroke="#363636" stroke-width="1.4"/>
<line x1="261.7" y1="297.9" x2="261.7" y2="302.1" stroke="#363636" stroke-width="1.4"/>
<text x="261.7" y="519.5" font-size="10.8" text-anchor="middle">60</text>
<line x1="283.5" y1="506.3" x2="283.5" y2="503.7" stroke="#363636" stroke-width="1.4"/>
<line x1="283.5" y1="297.9" x2="283.5" y2="300.5" stroke="#363636" stroke-width="1.4"/>
<line x1="305.3" y1="506.3" x2="305.3" y2="502.1" stroke="#363636" stroke-width="1.4"/>
<line x1="305.3" y1="297.9" x2="305.3" y2="302.1" stroke="#363636" stroke-width="1.4"/>
<text x="305.3" y="519.5" font-size="10.8" text-anchor="middle">80</text>
<text class="t" x="0" y="0" font-size="15.6" text-anchor="middle" transform="translate(29.5,401.2) rotate(-90)">% Drug Release</text>
<text x="202" y="538.7" font-size="15.6" text-anchor="middle" class="t">Time (hrs)</text>
<text x="75.8" y="321" font-size="18" text-anchor="start">b</text>
<text x="180.3" y="491.8" font-size="11" text-anchor="start">Zein Fiber</text>
<rect x="277.5" y="446.7" width="4.2" height="4.2" fill="#000000"/>
<text x="294.3" y="452.4" font-size="10.3" text-anchor="start">5%</text>
<circle cx="279.6" cy="461.6" r="2.7" fill="#ff0000"/>
<text x="294.3" y="465.2" font-size="10.3" text-anchor="start">10%</text>
<polygon points="279.6,471.16 276.4,476.56 282.8,476.56" fill="#0000ff"/>
<text x="294.3" y="478" font-size="10.3" text-anchor="start">20%</text>
<polygon points="279.6,490.44 276.4,485.04 282.8,485.04" fill="#ff00ff"/>
<text x="294.3" y="490.8" font-size="10.3" text-anchor="start">30%</text>
</svg>
</body></html>
